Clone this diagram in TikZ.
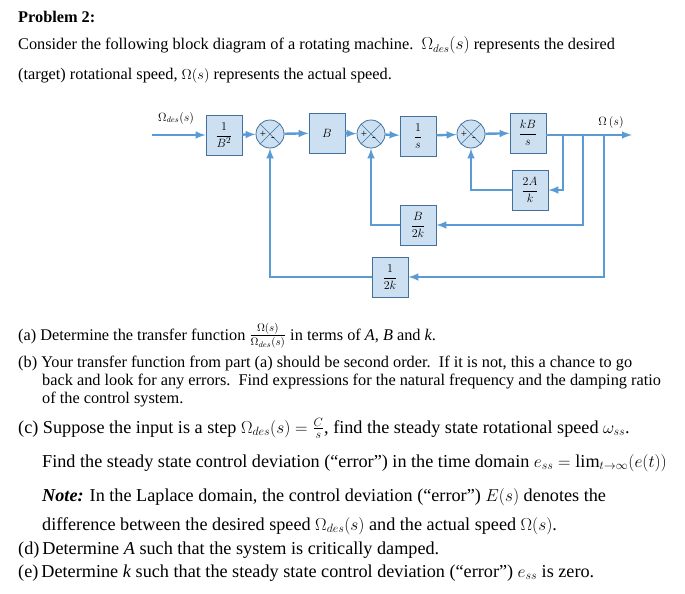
\documentclass[tikz,border=0pt]{standalone}
\usepackage{fontspec}
\usepackage{amsmath}
\setmainfont{Liberation Serif}
\usetikzlibrary{positioning}
\definecolor{flow}{RGB}{91,155,213}
\definecolor{boxfill}{RGB}{204,224,242}
\definecolor{boxline}{RGB}{65,113,156}
\tikzset{
  block/.style={rectangle, fill=boxfill, draw=boxline, line width=0.8pt, minimum width=36pt, minimum height=40pt, inner sep=1pt, font=\fontsize{13}{15}\selectfont},
  junction/.style={circle, fill=boxfill, draw=boxline, line width=0.8pt, minimum size=28pt, inner sep=0pt,
    path picture={\draw[boxline, line width=0.6pt] (path picture bounding box.south west) -- (path picture bounding box.north east)
      (path picture bounding box.north west) -- (path picture bounding box.south east);}},
  sig/.style={-latex, draw=flow, line width=2.4pt},
  txt/.style={anchor=base west, inner sep=0pt, font=\fontsize{16.3}{20}\selectfont},
  big/.style={font=\fontsize{18.2}{22}\selectfont},
}
\begin{document}
\begin{tikzpicture}[x=1pt,y=-1pt]
\useasboundingbox (0,0) rectangle (685,594);
% diagram
\node [block] (pre) at (224,135) {$\dfrac{1}{B^2}$};
\node [junction] (s1) at (270,134) {};
\node [block] (gB) at (327,133) {$B$};
\node [junction] (s2) at (371,134) {};
\node [block] (integ) at (418,136) {$\dfrac{1}{s}$};
\node [junction] (s3) at (471,134) {};
\node [block] (plant) at (528,133) {$\dfrac{kB}{s}$};
\node [block] (fbA) at (530,190) {$\dfrac{2A}{k}$};
\node [block] (fbB) at (418,225) {$\dfrac{B}{2k}$};
\node [block] (fbK) at (390,277) {$\dfrac{1}{2k}$};
\coordinate (in) at (152,135);
\coordinate (out) at (632,135);
\coordinate (b1) at (563,135);
\coordinate (b2) at (583,135);
\coordinate (b3) at (604,135);
\foreach \s in {s1,s2,s3} {
  \node [font=\fontsize{11}{11}\selectfont, inner sep=0pt] at ([xshift=-7pt]\s.center) {+};
  \node [font=\fontsize{11}{11}\selectfont, inner sep=0pt] at ([xshift=3pt,yshift=-5pt]\s.center) {-};
}
\node [font=\fontsize{12}{12}\selectfont] at (176,118) {$\Omega_{des}(s)$};
\node [font=\fontsize{12}{12}\selectfont] at (611,122) {$\Omega\,(s)$};
\draw [sig] (in) -- (pre);
\draw [sig] (pre) -- (s1);
\draw [sig] (s1) -- (gB);
\draw [sig] (gB) -- (s2);
\draw [sig] (s2) -- (integ);
\draw [sig] (integ) -- (s3);
\draw [sig] (s3) -- (plant);
\draw [sig] (plant.east |- out) -- (out);
\draw [sig] (b1) |- (fbA.east);
\draw [sig] (fbA.west) -| (s3.south);
\draw [sig] (b2) |- (fbB.east);
\draw [sig] (fbB.west) -| (s2.south);
\draw [sig] (b3) |- (fbK.east);
\draw [sig] (fbK.west) -| (s1.south);
% text
\node [txt, font=\bfseries\fontsize{16.3}{20}\selectfont] (title) at (18,23) {Problem 2:};
\node [txt] (l1) at (18,50) {Consider the following block diagram of a rotating machine.\ \ $\Omega_{des}(s)$ represents the desired};
\node [txt] (l2) at (18,80) {(target) rotational speed, {\Large$\Omega(s)$} represents the actual speed.};
\node [txt] (la) at (18,340) {(a) Determine the transfer function $\frac{\Omega(s)}{\Omega_{des}(s)}$ in terms of \textit{A}, \textit{B} and \textit{k}.};
\node [txt] (lb1) at (18,367) {(b) Your transfer function from part (a) should be second order.\ \ If it is not, this a chance to go};
\node [txt] (lb2) at (42,385) {back and look for any errors.\ \ Find expressions for the natural frequency and the damping ratio};
\node [txt] (lb3) at (42,403) {of the control system.};
\node [txt, big] (lc1) at (18,433) {(c) Suppose the input is a step $\Omega_{des}(s)=\frac{C}{s}$, find the steady state rotational speed $\omega_{ss}$.};
\node [txt, big] (lc2) at (42,467) {Find the steady state control deviation (``error'') in the time domain $e_{ss}=\lim_{t\to\infty}(e(t))$};
\node [txt, big] (lc3) at (42,501) {\textbf{\textit{Note:}} In the Laplace domain, the control deviation (``error'') $E(s)$ denotes the};
\node [txt, big] (lc4) at (42,530) {difference between the desired speed $\Omega_{des}(s)$ and the actual speed $\Omega(s)$.};
\node [txt, big] (ld) at (18,554) {(d)\,Determine \textit{A} such that the system is critically damped.};
\node [txt, big] (le) at (18,577) {(e)\,Determine \textit{k} such that the steady state control deviation (``error'') $e_{ss}$ is zero.};
\end{tikzpicture}
\end{document}
